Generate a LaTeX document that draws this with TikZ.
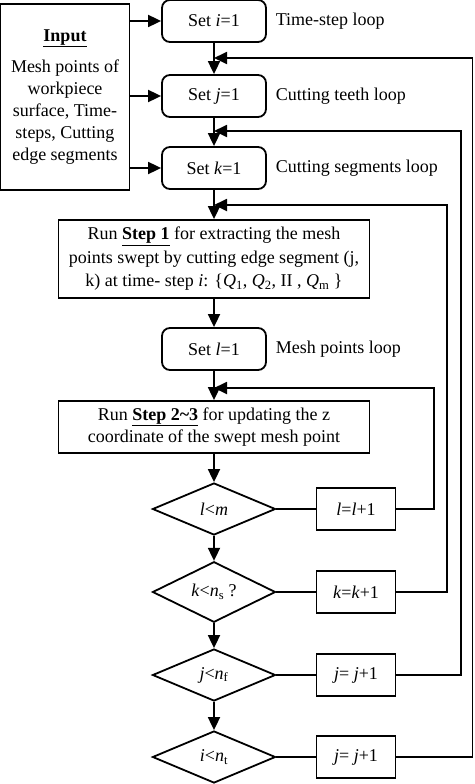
\documentclass[tikz,border=0pt]{standalone}
\usepackage{fontspec}
\setmainfont{Liberation Serif}
\usetikzlibrary{arrows.meta,shapes.geometric,positioning}

\tikzset{
  setbox/.style={draw,rounded corners=8pt,minimum width=104pt,minimum height=42pt,inner sep=0pt},
  runbox/.style={draw,minimum width=311pt,align=center,inner sep=0pt},
  decision/.style={draw,diamond,minimum width=123pt,minimum height=52pt,inner sep=0pt},
  incbox/.style={draw,minimum width=79pt,minimum height=42pt,inner sep=0pt},
  loopnote/.style={anchor=west,inner sep=0pt},
  flow/.style={-{Triangle[length=13pt,width=12pt]}},
}

\begin{document}
\begin{tikzpicture}[x=1pt,y=-1pt,line width=1.8pt,font=\fontsize{18}{22}\selectfont]
\useasboundingbox (0,0) rectangle (474,784);

% input data
\node[draw,minimum width=129pt,minimum height=186pt,align=center,inner sep=0pt] (input) at (65,97)
  {\underline{\textbf{Input}}\\[9pt]Mesh points of\\workpiece\\surface, Time-\\steps, Cutting\\edge segments};

% loop initialisations
\node[setbox] (seti) at (214,21) {Set \textit{i}=1};
\node[setbox] (setj) at (214,96) {Set \textit{j}=1};
\node[setbox] (setk) at (214,168) {Set \textit{k}=1};
\node[loopnote,right=8pt of seti] {Time-step loop};
\node[loopnote,right=8pt of setj] {Cutting teeth loop};
\node[loopnote,right=8pt of setk] {Cutting segments loop};

\node[runbox,minimum height=78pt,font=\fontsize{18}{23.5}\selectfont] (step1) at (214,259)
  {Run \underline{\textbf{Step 1}} for extracting the mesh\\
   points swept by cutting edge segment (j,\\
   k) at time- step \textit{i}: \{\textit{Q}\textsubscript{1}, \textit{Q}\textsubscript{2}, II , \textit{Q}\textsubscript{m} \}};

\node[setbox] (setl) at (214,349) {Set \textit{l}=1};
\node[loopnote,right=8pt of setl] {Mesh points loop};

\node[runbox,minimum height=52pt] (step2) at (214,427)
  {Run \underline{\textbf{Step 2\textasciitilde3}} for updating the z\\
   coordinate of the swept mesh point};

% loop tests
\node[decision] (testl) at (214,509) {\textit{l}<\textit{m}};
\node[decision] (testk) at (214,592) {\textit{k}<\textit{n}\textsubscript{s} ?};
\node[decision] (testj) at (214,675) {\textit{j}<\textit{n}\textsubscript{f}};
\node[decision] (testi) at (214,757) {\textit{i}<\textit{n}\textsubscript{t}};

\node[incbox] (incl) at (356,509) {\textit{l}=\textit{l}+1};
\node[incbox] (inck) at (356,592) {\textit{k}=\textit{k}+1};
\node[incbox] (incj) at (356,675) {\textit{j}= \textit{j}+1};
\node[incbox] (inci) at (356,757) {\textit{j}= \textit{j}+1};

% return points on the main line
\coordinate (backi) at (214,58);
\coordinate (backj) at (214,131);
\coordinate (backk) at (214,205);
\coordinate (backl) at (214,388);

% input arrows
\foreach \n in {seti,setj,setk}
  \draw[flow] (input.east |- \n.west) -- (\n.west);

% main line
\draw[flow] (seti) -- (setj);
\draw[flow] (setj) -- (setk);
\draw[flow] (setk) -- (step1);
\draw[flow] (step1) -- (setl);
\draw[flow] (setl) -- (step2);
\draw[flow] (step2) -- (testl);
\draw[flow] (testl) -- (testk);
\draw[flow] (testk) -- (testj);
\draw[flow] (testj) -- (testi);

% loops back
\draw (testl) -- (incl);
\draw (testk) -- (inck);
\draw (testj) -- (incj);
\draw (testi) -- (inci);
\draw[flow] (incl.east) -- (434,509) |- (backl);
\draw[flow] (inck.east) -- (447,592) |- (backk);
\draw[flow] (incj.east) -- (461,675) |- (backj);
\draw[flow] (inci.east) -- (472.5,757) |- (backi);
\end{tikzpicture}
\end{document}
